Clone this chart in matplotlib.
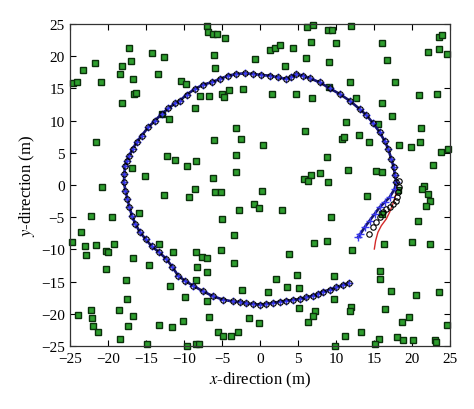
import matplotlib
matplotlib.use("Agg")
import matplotlib.pyplot as plt

# ---------------- data ----------------
# landmarks (green squares)
landmark_x = [
    -7.08, -6.87, -6.29, -5.68, -4.58, -17.26, -14.24, -12.74, -21.78, -17.0, -23.31, -18.18, -18.45,
    -6.08, -5.9, -13.49, -16.74, -24.71, -24.1, -20.99, -10.42, -9.8, -0.63, -2.3, -4.14, -7.96, -6.74,
    -5.1, -4.84, -18.22, -8.66, -16.68, -16.34, -12.0, -13.0, -21.64, -3.18, -6.12, -2.53, -12.34, -11.21,
    -9.67, -8.49, -3.26, -3.18, -6.16, -15.16, -16.87,
    6.21, 6.95, 8.88, 9.5, 12.0, 6.64, 9.93, 16.08, 23.49, 23.97, 1.25, 1.91, 2.57, 4.32, 6.03, 9.01,
    16.74, 22.08, 23.53, 24.58, 3.22, 11.87, 17.74, 1.51, 4.76, 6.78, 9.1, 12.57, 16.08, 20.86, 23.22,
    17.39, 11.25, 15.55, 21.16, 5.9, 0.37, 10.8, 11.0, 13.0, 14.32, 18.26, 19.8, 21.08, 23.84, 24.71,
    8.79, 22.74, 11.55, 7.87, 6.73, 5.77, 15.29, 16.03,
    -20.9, -12.74, -9.37, -8.58, -5.9, -5.2, -0.86, -0.2, -2.83, -15.95, -19.5, -22.26, -23.66, -5.03,
    -24.8, -23.09, -22.92, -21.64, -20.37, -20.03, -19.24, -13.4, -11.47, -8.4, -7.61, -7.08, -5.11,
    -3.49, -16.82, -8.36, -3.45, -20.33, -14.63, -6.95, -17.74, -8.53, -11.91, -2.47, -17.61, -9.93,
    -7.04, -22.26, -18.66, -23.97, -22.13, -16.74, -6.74, -1.42, -0.2, -22.08, -17.47, -13.4, -11.68,
    -10.2, -21.42, -5.55, -4.93, -3.84, -2.92, -18.45, -14.89, -9.71, -8.4, -8.05,
    6.29, 8.88, 0.2, 2.92, 14.01, 18.18, 21.55, 21.25, 22.08, 22.34, 21.87, 20.76, 9.37, 7.08, 8.75,
    12.13, 3.75, 16.29, 20.03, 22.39, 15.76, 15.72, 2.13, 4.84, 9.67, 3.58, 5.11, 1.08, 17.17, 20.55,
    23.49, 9.76, 5.11, 11.95, 11.78, 16.38, 7.17, 6.95, 6.29, 19.54, 18.71, 24.58, 11.12, 13.22, 9.89,
    15.63, 15.16, 18.05, 18.79, 20.11, 23.05, 23.09, 16.05,
]
landmark_y = [
    24.74, 23.8, 23.45, 23.45, 22.87, 21.27, 20.5, 19.93, 18.99, 19.2, 17.86, 18.43, 17.28,
    20.19, 18.12, 17.28, 16.41, 15.89, 16.04, 15.95, 16.15, 15.68, 19.57, 14.91, 14.8, 13.77, 13.82,
    14.08, 13.66, 12.73, 11.96, 14.18, 14.29, 10.2, 10.98, 6.63, 8.8, 6.94, 7.14, 4.55, 3.88,
    2.9, 3.73, 4.61, 1.97, 1.04, 1.44, 2.59,
    24.58, 24.8, 24.02, 24.07, 24.74, 22.26, 22.0, 22.1, 22.93, 23.34, 21.01, 21.22, 21.69, 21.22, 19.77, 19.15,
    19.46, 20.6, 21.12, 20.29, 18.48, 15.95, 15.95, 14.08, 14.08, 13.46, 15.17, 13.46, 12.78, 14.03, 14.18,
    10.67, 9.74, 9.47, 8.9, 8.43, 6.21, 7.2, 7.45, 7.72, 6.68, 6.21, 5.9, 6.63, 5.07, 5.64,
    4.3, 3.11, 2.38, 1.86, 1.6, 0.98, 2.13, 2.07,
    -0.31, -1.6, -1.91, -0.62, -1.09, -1.09, -2.95, -3.57, -3.88, -4.3, -4.92, -4.86, -7.3, -5.33,
    -8.8, -9.47, -10.8, -9.27, -10.2, -10.45, -9.11, -9.21, -10.45, -10.45, -11.18, -11.29, -10.04,
    -7.81, -11.29, -12.78, -12.06, -13.04, -12.47, -13.56, -14.7, -14.75, -15.68, -16.26, -17.7, -17.44,
    -18.01, -19.36, -19.36, -20.19, -20.6, -20.39, -20.45, -20.7, -21.38, -21.89, -21.89, -21.74, -22.05,
    -21.07, -22.88, -22.83, -23.4, -23.4, -22.88, -23.97, -24.69, -24.95, -24.74, -24.64,
    0.57, 0.42, -0.93, -3.83, -1.71, -0.73, -0.2, -0.67, -1.4, -2.48, -3.31, -5.64, -5.02, -8.96, -8.74,
    -10.14, -10.76, -9.16, -8.85, -9.16, -13.35, -14.65, -14.65, -14.03, -14.08, -15.89, -15.94, -16.66, -16.51, -17.13,
    -16.57, -17.7, -19.1, -18.9, -19.57, -19.3, -19.52, -20.39, -21.22, -20.45, -21.22, -21.74, -23.45, -22.88, -25.05,
    -23.91, -24.69, -23.56, -24.02, -24.12, -24.07, -24.43, -4.5,
]

# common part of the trajectory (clockwise from the start at bottom right)
common_x = [
    11.68, 10.89, 10.03, 9.14, 8.26, 7.61, 6.95, 6.08, 5.2, 4.32, 3.45, 2.57, 1.68, 0.82, -0.07, -0.95,
    -1.82, -2.7, -3.58, -4.89, -6.21, -7.53, -8.84, -9.93, -10.82, -11.58, -12.37, -13.36, -14.28, -15.07,
    -15.86, -16.45, -16.91, -17.24, -17.5, -17.76, -17.96, -17.89, -17.83, -17.57, -17.26, -16.82, -16.29,
    -15.63, -14.76, -13.88, -13.0, -12.13, -11.25, -10.59, -9.71, -8.62, -7.53, -6.42, -5.33, -4.24, -3.13,
    -2.04, -0.95, 0.16, 1.25, 2.34, 3.45, 4.11, 4.76, 5.63, 6.51, 7.83, 9.14, 10.46, 11.78, 13.09, 13.97,
    14.84, 15.72, 16.38, 16.87, 17.26, 17.57, 17.76, 17.92,
]
common_y = [
    -15.22, -15.53, -15.89, -16.26, -16.57, -16.93, -17.19, -17.44, -17.7, -17.86, -17.97, -18.12, -18.32,
    -18.48, -18.56, -18.48, -18.4, -18.17, -18.09, -17.81, -17.28, -16.51, -15.64, -14.86, -14.08, -12.73,
    -11.49, -10.4, -9.55, -8.46, -7.3, -6.06, -4.77, -3.42, -2.17, -0.88, 0.42, 1.71, 2.95, 3.73, 4.55, 5.59,
    6.63, 7.66, 8.96, 9.98, 11.02, 11.88, 12.66, 13.09, 14.02, 14.91, 15.57, 15.95, 16.46, 16.97, 17.24,
    17.34, 17.24, 17.08, 16.97, 16.72, 16.46, 16.82, 17.24, 16.97, 16.58, 15.95, 15.02, 14.13, 13.09, 11.8,
    10.87, 9.63, 8.23, 6.83, 5.59, 4.04, 2.8, 1.55, 0.47,
]

# end of the trajectory, where the three curves part
true_tail_x = [17.92, 17.83, 17.47, 17.04, 16.6, 15.95, 15.5, 15.2, 15.03]
true_tail_y = [-0.23, -1.66, -2.95, -4.24, -5.28, -6.32, -7.35, -8.65, -9.94]

est1_tail_x = [17.7, 17.04, 16.38, 15.72, 15.07, 14.41, 13.75, 13.18, 12.87]
est1_tail_y = [-0.62, -1.91, -2.69, -3.46, -4.5, -5.54, -6.57, -7.61, -8.12]

est2_tail_x = [18.26, 18.22, 18.13, 18.0, 17.83, 17.47, 17.04, 16.6, 16.16, 15.72, 15.29, 14.84, 14.32]
est2_tail_y = [0.67, -0.31, -1.09, -1.79, -2.48, -2.95, -3.34, -3.73, -4.24, -5.02, -5.79, -6.57, -7.61]

x_ticks = [-25, -20, -15, -10, -5, 0, 5, 10, 15, 20, 25]
y_ticks = [-25, -20, -15, -10, -5, 0, 5, 10, 15, 20, 25]

# ---------------- figure ----------------
plt.rcParams['font.family'] = ['Liberation Serif', 'DejaVu Serif']
plt.rcParams['mathtext.fontset'] = 'stix'

fig = plt.figure(figsize=(4.74, 4.10), dpi=100)
ax = fig.add_axes([0.1487, 0.1537, 0.8007, 0.7853])

ax.plot(landmark_x, landmark_y, linestyle='none', marker='s', markersize=3.9,
        markerfacecolor='#2e9e2e', markeredgecolor='#0b2f0b', markeredgewidth=1.0,
        clip_on=False, zorder=2)

true_x = common_x + true_tail_x
true_y = common_y + true_tail_y
e1_x = common_x + est1_tail_x
e1_y = common_y + est1_tail_y
e2_x = common_x + est2_tail_x
e2_y = common_y + est2_tail_y

ax.plot(true_x, true_y, color='#d42a2a', linewidth=1.0, zorder=3)
ax.plot(e1_x, e1_y, color='#14146e', linewidth=1.9, marker='+', markersize=6,
        markeredgecolor='#3a3af0', markeredgewidth=1.0, zorder=4)
ax.plot(e2_x, e2_y, linestyle='none', marker='o', markersize=3.9,
        markerfacecolor='none', markeredgecolor='black', markeredgewidth=0.8, zorder=5)

ax.set_xlim(-25, 25)
ax.set_ylim(-25, 25)
ax.set_xticks(x_ticks)
ax.set_yticks(y_ticks)
ax.tick_params(direction='in', length=4, width=0.8, top=True, right=True,
               labelsize=11, pad=4)
for s in ax.spines.values():
    s.set_linewidth(0.9)
    s.set_color('#333333')

ax.set_xlabel(r'$x$-direction (m)', fontsize=12, labelpad=4)
ax.set_ylabel(r'$y$-direction (m)', fontsize=12, labelpad=3)

fig.savefig('out.png', dpi=100)
